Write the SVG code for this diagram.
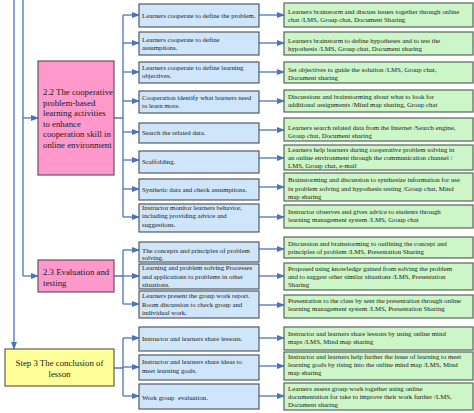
<svg xmlns="http://www.w3.org/2000/svg" width="474" height="413" viewBox="0 0 474 413">
<defs>
<marker id="ah" markerWidth="8" markerHeight="6" refX="7" refY="3" orient="auto" markerUnits="userSpaceOnUse">
<path d="M0,0 L8,3 L0,6 Z" fill="#4a74bd"/>
</marker>
<style>
.c{stroke:#4a74bd;stroke-width:1.3;fill:none}
.a{marker-end:url(#ah)}
.m{fill:#cfe6fa;stroke:#505a60;stroke-width:1.2}
.r{fill:#ccf5c8;stroke:#55665a;stroke-width:1.2}
.p{fill:#ff99cc;stroke:#6a5060;stroke-width:1.2}
.y{fill:#ffff99;stroke:#606050;stroke-width:1.2}
text{font-family:"Liberation Serif","Times New Roman",serif;fill:#1a1a1a}
.t{font-size:6.8px}
.b{font-size:8.8px}
</style>
</defs>
<rect width="474" height="413" fill="#ffffff"/>

<g id="connectors">
<path class="c a" d="M14,0 V349"/>
<path class="c" d="M23,0 V276"/>
<path class="c a" d="M23,118 H38"/>
<path class="c a" d="M23,276 H38"/>
<path class="c" d="M114,118 H123 M123,15 V217"/>
<path class="c" d="M114,276 H123 M123,250 V304"/>
<path class="c" d="M114,368 H123 M123,338 V396"/>
<path class="c a" d="M123,15 H139"/>
<path class="c a" d="M123,43 H139"/>
<path class="c a" d="M123,72 H139"/>
<path class="c a" d="M123,101 H139"/>
<path class="c a" d="M123,132 H139"/>
<path class="c a" d="M123,160 H139"/>
<path class="c a" d="M123,189 H139"/>
<path class="c a" d="M123,217 H139"/>
<path class="c a" d="M123,250 H139"/>
<path class="c a" d="M123,276 H139"/>
<path class="c a" d="M123,304 H139"/>
<path class="c a" d="M123,338 H139"/>
<path class="c a" d="M123,367 H139"/>
<path class="c a" d="M123,396 H139"/>
<path class="c a" d="M259,15 H284"/>
<path class="c a" d="M259,43 H284"/>
<path class="c a" d="M259,72 H284"/>
<path class="c a" d="M259,101 H284"/>
<path class="c a" d="M259,130 H284"/>
<path class="c a" d="M259,158 H284"/>
<path class="c a" d="M259,187 H284"/>
<path class="c a" d="M259,217 H284"/>
<path class="c a" d="M259,249 H284"/>
<path class="c a" d="M259,276 H284"/>
<path class="c a" d="M259,305 H284"/>
<path class="c a" d="M259,338 H284"/>
<path class="c a" d="M259,366 H284"/>
<path class="c a" d="M259,396 H284"/>
</g>

<g id="n22">
<rect class="p" x="38" y="61" width="76" height="114"/>
<text class="b"><tspan x="43" y="95">2.2 The cooperative</tspan><tspan x="43" y="105.5">problem-based</tspan><tspan x="43" y="116">learning activities</tspan><tspan x="43" y="126.5">to enhance</tspan><tspan x="43" y="137">cooperation skill in</tspan><tspan x="43" y="147.5">online environment</tspan></text>
</g>
<g id="n23">
<rect class="p" x="38" y="260" width="76" height="32"/>
<text class="b"><tspan x="43" y="275">2.3 Evaluation and</tspan><tspan x="43" y="286">testing</tspan></text>
</g>
<g id="step3">
<rect class="y" x="5" y="349" width="109" height="37"/>
<text class="b" text-anchor="middle"><tspan x="59.5" y="366">Step 3 The conclusion of</tspan><tspan x="59.5" y="376.5">lesson</tspan></text>
</g>

<g id="m1"><rect class="m" x="139" y="4" width="120" height="23"/><text class="t" x="142" y="17.5">Learners cooperate to define the problem.</text></g>
<g id="m2"><rect class="m" x="139" y="32" width="120" height="23"/><text class="t"><tspan x="142" y="42">Learners cooperate to define</tspan><tspan x="142" y="50">assumptions.</tspan></text></g>
<g id="m3"><rect class="m" x="139" y="62" width="120" height="21"/><text class="t"><tspan x="142" y="70">Learners cooperate to define learning</tspan><tspan x="142" y="78">objectives.</tspan></text></g>
<g id="m4"><rect class="m" x="139" y="91" width="120" height="22"/><text class="t"><tspan x="142" y="100">Cooperation identify what learners need</tspan><tspan x="142" y="108">to learn more.</tspan></text></g>
<g id="m5"><rect class="m" x="139" y="123" width="120" height="20"/><text class="t" x="142" y="134.5">Search the related data.</text></g>
<g id="m6"><rect class="m" x="139" y="151" width="120" height="22"/><text class="t" x="142" y="163.5">Scaffolding.</text></g>
<g id="m7"><rect class="m" x="139" y="179" width="120" height="21"/><text class="t" x="142" y="191.5">Synthetic data and check assumptions.</text></g>
<g id="m8"><rect class="m" x="139" y="204" width="120" height="28"/><text class="t"><tspan x="142" y="209.5">Instructor monitor learners behavior,</tspan><tspan x="142" y="218">including providing advice and</tspan><tspan x="142" y="226.5">suggestions.</tspan></text></g>
<g id="m9"><rect class="m" x="139" y="242" width="120" height="20"/><text class="t"><tspan x="142" y="252.5">The concepts and principles of problem</tspan><tspan x="142" y="260">solving.</tspan></text></g>
<g id="m10"><rect class="m" x="139" y="264" width="120" height="25"/><text class="t"><tspan x="142" y="270">Learning and problem solving Processes</tspan><tspan x="142" y="278.5">and applications to problems in other</tspan><tspan x="142" y="287">situations.</tspan></text></g>
<g id="m11"><rect class="m" x="139" y="291" width="120" height="27"/><text class="t"><tspan x="142" y="297.5">Learners present the group work report.</tspan><tspan x="142" y="306.5">Room discussion to check group and</tspan><tspan x="142" y="315">individual work.</tspan></text></g>
<g id="m12"><rect class="m" x="139" y="327" width="120" height="24"/><text class="t" x="142" y="340.5">Instructor and learners share lessons.</text></g>
<g id="m13"><rect class="m" x="139" y="355" width="120" height="25"/><text class="t"><tspan x="142" y="364">Instructor and learners share ideas to</tspan><tspan x="142" y="373">meet learning goals.</tspan></text></g>
<g id="m14"><rect class="m" x="139" y="384" width="120" height="25"/><text class="t" x="142" y="399.5" xml:space="preserve">Work group  evaluation.</text></g>

<g id="r1"><rect class="r" x="284" y="3" width="189" height="24"/><text class="t"><tspan x="288" y="14">Learners brainstorm and discuss issues together through online</tspan><tspan x="288" y="22">chat /LMS, Group chat, Document Sharing</tspan></text></g>
<g id="r2"><rect class="r" x="284" y="32" width="189" height="23"/><text class="t"><tspan x="288" y="43">Learners brainstorm to define hypotheses and to test the</tspan><tspan x="288" y="51">hypothesis /LMS, Group chat, Document sharing</tspan></text></g>
<g id="r3"><rect class="r" x="284" y="62" width="189" height="21"/><text class="t"><tspan x="288" y="72">Set objectives to guide the solution /LMS, Group chat,</tspan><tspan x="288" y="80">Document sharing</tspan></text></g>
<g id="r4"><rect class="r" x="284" y="90" width="189" height="22"/><text class="t"><tspan x="288" y="99">Discussions and brainstorming about what to look for</tspan><tspan x="288" y="107">additional assignments /Mind map sharing, Group chat</tspan></text></g>
<g id="r5"><rect class="r" x="284" y="118" width="189" height="23"/><text class="t"><tspan x="288" y="130">Learners search related data from the Internet /Search engine,</tspan><tspan x="288" y="138">Group chat, Document sharing</tspan></text></g>
<g id="r6"><rect class="r" x="284" y="145" width="189" height="25"/><text class="t"><tspan x="288" y="152">Learners help learners during cooperative problem solving in</tspan><tspan x="288" y="160">an online environment through the communication channel /</tspan><tspan x="288" y="168">LMS, Group chat, e-mail</tspan></text></g>
<g id="r7"><rect class="r" x="284" y="173" width="189" height="28"/><text class="t"><tspan x="288" y="182">Brainstorming and discussion to synthesize information for use</tspan><tspan x="288" y="190.5">in problem solving and hypothesis testing /Group chat, Mind</tspan><tspan x="288" y="199">map sharing</tspan></text></g>
<g id="r8"><rect class="r" x="284" y="205" width="189" height="23"/><text class="t"><tspan x="288" y="214">Instructor observes and gives advice to students through</tspan><tspan x="288" y="222">learning management system /LMS, Group chat</tspan></text></g>
<g id="r9"><rect class="r" x="284" y="237" width="189" height="21"/><text class="t"><tspan x="288" y="246">Discussion and brainstorming to outlining the concept and</tspan><tspan x="288" y="254">principles of problem /LMS, Presentation Sharing</tspan></text></g>
<g id="r10"><rect class="r" x="284" y="263" width="189" height="27"/><text class="t"><tspan x="288" y="270.5">Proposed using knowledge gained from solving the problem</tspan><tspan x="288" y="278.5">and to suggest other similar situations /LMS, Presentation</tspan><tspan x="288" y="286.5">Sharing</tspan></text></g>
<g id="r11"><rect class="r" x="284" y="295" width="189" height="23"/><text class="t"><tspan x="288" y="302.5">Presentation to the class by sent the presentation through online</tspan><tspan x="288" y="310.5">learning management system /LMS, Presentation Sharing</tspan></text></g>
<g id="r12"><rect class="r" x="284" y="327" width="189" height="23"/><text class="t"><tspan x="288" y="336">Instructor and learners share lessons by using online mind</tspan><tspan x="288" y="344">maps /LMS, Mind map sharing</tspan></text></g>
<g id="r13"><rect class="r" x="284" y="352" width="189" height="28"/><text class="t"><tspan x="288" y="358.5">Instructor and learners help further the issue of learning to meet</tspan><tspan x="288" y="366.5">learning goals by rising into the online mind map /LMS, Mind</tspan><tspan x="288" y="374.5">map sharing</tspan></text></g>
<g id="r14"><rect class="r" x="284" y="383" width="189" height="27"/><text class="t"><tspan x="288" y="390.5">Learners assess group work together using online</tspan><tspan x="288" y="398.5">documentation for take to improve their work further /LMS,</tspan><tspan x="288" y="406.5">Document sharing</tspan></text></g>
</svg>
